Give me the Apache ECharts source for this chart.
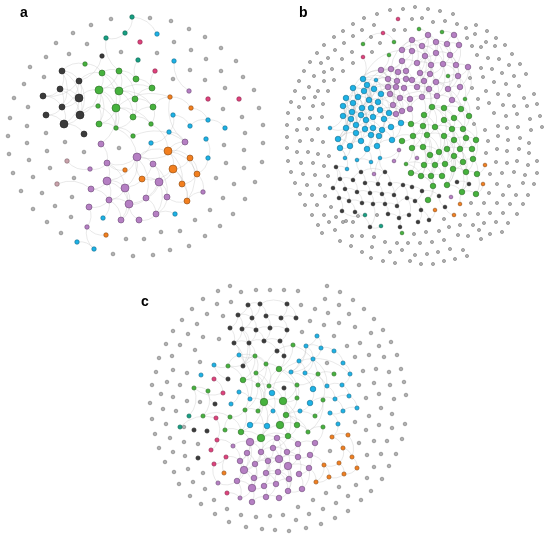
<!DOCTYPE html>
<html><head><meta charset="utf-8">
<script src="https://cdn.jsdelivr.net/npm/echarts@6/dist/echarts.min.js"></script>
<style>html,body{margin:0;padding:0;background:#fff}#c{width:550px;height:538px}</style>
</head><body><div id="c"></div>
<script>
// ---------- Panel a ----------
const aGray=[[91,25],[111,19],[73,33],[56,43],[87,44],[46,57],[69,54],[121,52],[30,67],[44,77],[24,84],[14,98],[28,107],[10,118],[27,126],[46,133],
[150,18],[171,21],[189,29],[205,37],[174,42],[157,53],[191,50],[221,48],[206,59],[236,61],[190,70],[221,71],[243,77],[173,79],[205,80],[225,88],[254,90],[223,109],[259,108],[242,117],[263,125],[245,133],
[8,136],[27,143],[65,142],[9,154],[47,151],[84,152],[29,160],[119,148],[13,173],[50,168],[33,177],[74,178],[21,191],[42,193],[72,197],[33,209],[55,206],[71,217],[47,222],[61,233],[126,239],[113,254],[133,256],
[263,143],[224,145],[244,150],[226,163],[262,162],[244,168],[216,178],[234,184],[255,182],[223,198],[245,199],[210,210],[233,214],[195,220],[220,226],[180,231],[161,232],[144,239],[205,236],[189,246],[170,250],[153,255]];
const aDark=[[102,56,1],[62,71,2],[79,81,2],[60,89,2],[43,96,2],[79,98,3],[62,107,2],[46,115,2],[80,115,3],[64,124,3],[84,134,2]];
const aGreen=[[85,64,1],[102,73,2],[119,71,2],[136,79,2],[99,90,3],[119,91,3],[135,99,2],[98,106,1],[116,108,3],[133,117,2],[99,124,2],[116,128,1],[152,88,2],[153,107,2],[151,124,1],[133,136,1]];
const aTeal=[[132,17,1],[125,33,1],[106,38,1],[138,60,1]];
const aPink=[[140,42,1],[155,71,1],[208,99,1],[239,99,1]];
const aRose=[[67,161,1],[57,184,1]];
const aCyan=[[157,34,1],[174,61,1],[173,115,1],[190,126,1],[208,120,1],[225,128,1],[169,132,1],[151,143,1],[206,139,1],[208,158,1],[175,214,1],[103,218,1],[77,242,1],[94,249,1]];
const aOrange=[[170,97,1],[191,108,1],[168,151,3],[190,158,2],[173,169,3],[197,174,2],[142,179,2],[182,184,2],[187,201,2],[125,170,1],[106,235,1]];
const aPurple=[[189,91,1],[185,142,2],[137,157,3],[153,164,2],[159,182,3],[146,198,2],[167,197,2],[156,214,2],[139,220,2],[203,192,1],[101,144,2],[107,163,2],[90,169,1],[107,181,3],[125,188,3],[91,189,2],[109,200,2],[129,204,3],[89,207,2],[121,220,2],[87,227,1]];
const aEdges="k1:2,3,5,6,g0 k2:4,5,6,8,g1 k0:2 k3:4,5,6,8 k4:6 k5:6,8,9,g4 k6:7,9 k7:9 k8:9,g7 k9:10 g0:1 g1:2,4,5,8 g2:3,4,5,6,t2 g3:12,t3 g4:5,7,8,10,11,k8 g5:6,8,9,12,13 g6:9,12,13 g7:10,11 g8:9,10,11,14,u10,o0 g9:11,13,14 g10:11 g11:15,u2 g12:p1 g13:14,o0 g14:o2 g15:u1 t0:1,c0 t1:2 o0:1 o1:c4 o2:3,4,5,7,u1 o3:4,5,8 o4:6,7,8,u4 o5:7,u9 o6:u2,u4 o7:8 o8:u6,u9 o9:u11 o10:u20 u0:c1 u1:2,o0 u2:3,5,11,13,14,o2 u3:4,6,14 u4:5,6,7,17 u5:7,17 u6:7 u7:8,c10 u8:17 u10:11 u11:12,13,14 u12:r0 u13:14,15,16,17 u14:16,17,19 u15:16 u16:17,18,19,c11 u17:19 u18:20 c2:3,6 c3:4 c4:5 c6:7,u1 c7:u2 c8:9 c9:o5 c12:13 c13:u20 r1:u15";

// ---------- Panel b ----------
const bGray=[[403,9],[390,10],[377,14],[364,18],[353,24],[374,25],[343,31],[362,30],[394,30],[405,30],[334,37],[371,37],[353,36],[380,43],[324,45],[344,43],[335,50],[352,52],[372,52],[317,53],[328,58],[342,59],[310,62],[321,63],[353,63],[304,71],[332,69],[343,71],[314,76],[324,72],[299,81],[334,80],[324,81],[309,87],[295,91],[318,91],[328,91],[291,102],[304,98],[315,97],[323,104],[299,107],[288,113],[313,106],[322,117],[299,119],[310,118],[287,125],[297,130],[307,129],[318,129],
[415,7],[428,9],[440,11],[453,14],[412,19],[422,18],[433,22],[445,21],[457,24],[466,28],[476,25],[475,34],[487,31],[467,38],[486,42],[496,38],[472,46],[481,47],[495,46],[505,45],[477,55],[488,58],[499,59],[512,54],[481,68],[492,69],[509,65],[520,64],[470,78],[483,77],[502,73],[514,76],[526,74],[494,82],[506,84],[519,86],[472,88],[486,91],[498,94],[509,95],[524,98],[534,94],[478,99],[489,103],[503,105],[514,106],[527,106],[537,104],[478,108],[494,113],[506,116],[517,114],[530,119],[540,116],[474,124],[485,130],[498,126],[507,128],[518,127],[531,130],[542,127],
[287,137],[300,141],[312,140],[323,142],[287,148],[297,152],[308,152],[318,154],[329,156],[288,161],[301,163],[313,163],[324,166],[291,172],[303,174],[315,175],[328,176],[295,183],[307,185],[320,185],[300,194],[312,195],[325,196],[305,205],[317,205],[331,207],[312,215],[324,215],[336,217],[318,225],[329,222],[346,221],[322,233],[335,230],[353,222],[340,241],[352,236],[362,236],[351,246],[374,237],[362,252],[372,247],[385,242],[397,243],[371,258],[383,261],[395,263],[390,252],[402,250],[408,243],[410,261],[377,215],[358,216],[343,222],
[498,136],[488,141],[508,140],[520,138],[529,143],[497,149],[486,153],[507,151],[519,149],[529,153],[496,162],[507,163],[517,161],[528,165],[537,161],[490,174],[502,173],[514,172],[525,175],[537,173],[497,184],[509,186],[523,183],[534,184],[489,193],[503,195],[516,195],[528,195],[484,203],[497,203],[510,204],[523,204],[471,203],[478,214],[490,213],[503,213],[517,214],[465,215],[473,225],[484,223],[496,222],[508,223],[460,225],[449,227],[444,219],[426,232],[439,231],[458,235],[479,230],[490,234],[502,232],[414,234],[420,243],[432,242],[444,240],[468,236],[481,239],[415,255],[427,254],[438,252],[450,249],[463,250],[467,256],[421,264],[433,264],[444,261],[455,259]];
const bCyan=[[363,79,2],[376,80,1],[367,85,2],[353,88,2],[364,91,2],[374,89,2],[381,94,2],[346,98,2],[358,97,2],[369,100,2],[378,102,2],[353,103,2],[343,106,2],[362,108,2],[371,108,2],[380,110,2],[389,113,2],[352,112,2],[343,116,2],[361,115,2],[373,117,2],[351,119,2],[366,120,2],[384,119,2],[401,123,2],[356,125,2],[346,128,2],[365,129,2],[373,128,2],[382,130,2],[391,127,2],[330,128,1],[338,139,2],[350,146,2],[361,141,2],[367,149,2],[377,146,2],[340,148,2],[345,158,1],[357,160,1],[371,162,1],[380,158,1],[347,169,1],[356,133,2],[371,135,2],[379,136,2],[392,140,2]];
const bPurple=[[402,50,2],[412,51,2],[402,61,2],[381,70,2],[391,69,2],[398,72,2],[406,71,2],[388,79,2],[397,81,2],[406,79,2],[388,87,2],[396,87,2],[404,88,2],[390,94,2],[400,98,2],[410,99,2],[393,105,2],[402,111,2],[410,109,2],[396,114,2],[428,35,2],[412,40,2],[436,42,2],[447,44,2],[454,35,2],[459,45,2],[422,46,2],[436,53,2],[425,56,2],[450,55,2],[417,63,2],[431,65,2],[443,64,2],[456,65,2],[468,67,2],[420,73,2],[430,74,2],[458,76,2],[424,81,2],[436,82,2],[412,80,2],[417,87,2],[429,89,2],[448,89,2],[460,87,2],[437,96,2],[422,97,2],[452,100,2],[399,150,1],[394,161,1],[374,174,1],[417,158,1],[451,197,1]];
const bGreen=[[363,44,1],[394,42,1],[389,55,1],[419,29,1],[442,32,1],[448,76,1],[465,99,1],[402,233,1],[432,107,2],[444,108,2],[461,109,2],[469,116,2],[454,118,2],[424,115,2],[444,120,2],[411,124,2],[423,126,2],[435,127,2],[452,129,2],[463,129,2],[413,136,2],[427,135,2],[444,136,2],[454,140,2],[466,138,2],[476,140,2],[412,148,2],[423,147,2],[439,152,2],[447,149,2],[460,149,2],[472,149,2],[430,155,2],[454,156,2],[463,162,2],[473,159,2],[424,165,2],[435,165,2],[445,164,2],[453,169,2],[466,172,2],[477,174,2],[411,173,2],[421,176,2],[431,176,2],[442,176,2],[433,186,2],[447,185,2],[462,192,2],[476,194,2],[428,200,2],[402,141,2],[406,164,1]];
const bBlack=[[336,167,1],[340,179,1],[353,180,1],[361,172,1],[365,183,1],[378,184,1],[385,172,1],[390,184,1],[333,188,1],[345,189,1],[357,192,1],[370,193,1],[382,194,1],[394,195,1],[403,185,1],[412,187,1],[339,198,1],[349,201,1],[362,203,1],[373,204,1],[385,204,1],[397,206,1],[407,198,1],[342,211,1],[355,212,1],[388,214,1],[399,218,1],[409,215,1],[370,227,1],[400,227,1],[457,182,1],[469,184,1],[422,191,1],[439,196,1],[415,201,1],[445,207,1],[421,210,1],[429,220,1],[418,222,1]];
const bTeal=[[365,215,1],[381,226,1]];
const bPink=[[398,19,1],[383,33,1],[363,57,1]];
const bOrange=[[485,165,1],[483,184,1],[460,204,1],[435,210,1],[454,215,1]];
const bEdges="c0:1,2,3,4,5,u3,u7 c1:5,6,u7,u8 c2:3,4,5,8,9 c3:4,7,8,11,u3 c4:5,8,9,13 c5:6,9,10,u10 c6:10,15,16,u10,u13 c7:8,11,12,18 c8:9,11,13,17 c9:10,13,14,u4 c10:14,15,16,u14 c11:12,13,17,21 c12:17,18,26 c13:14,17,19,22,u11 c14:15,19,20 c15:16,20,23 c16:23,24,u16,u19 c17:18,19,21,25 c18:21,26,31 c19:20,22,25 c20:22,23,28,u19 c21:25,26 c22:25,27,28 c23:24,29,30 c24:30,46,u17,g15 c25:26,27,43 c26:31,32,43 c27:28,43,44 c28:29,44,45 c29:30,45,46 c30:46 c32:33,37,43 c33:34,37,38 c34:35,43,44 c35:36,39,40 c36:41,45,46 c37:38,42 c39:40 c46:g20 u0:1,2,21,26 u1:2,6,21,28 u2:3,4,5,6,30 u3:4,7,10 u4:5,7,8 u5:6,8,9 u6:9,30,40 u7:8,10,11 u8:9,11,12 u9:12,40,41 u10:11,13 u11:12,13,14 u12:14,15,41 u13:14,16 u14:15,16,17 u15:17,18,46 u16:17,19 u17:18,19 u18:46,g15 u20:21,22,26 u21:26,30 u22:23,26,27 u23:24,25,29 u24:25 u25:29,33 u26:27,28 u27:28,29,31,32 u28:30,31 u29:32,33 u30:31,35 u31:32,35,36 u32:33,36,37 u33:34,37 u34:37,44,g6 u35:36,38,40 u36:38,39 u37:39,43,44,g6 u38:40,41,42 u39:42,43,45 u40:41 u41:42,46 u42:45,46 u43:44,45,47 u44:47 u45:46,47,g8 u46:g13 u47:g9,g10 u48:49,c41 u50:c40 g5:u37,u43 g6:10,11 g8:9,13,14,17 g9:10,12,14 g10:11,12,19 g11:19,25 g12:14,18,19 g13:15,16,17 g14:17,18 g15:16,20 g16:17,20,21 g17:18,21,22 g18:19,22,23 g19:24,25 g20:21,26,27,51 g21:22,27,28 g22:23,28,29 g23:24,29,30 g24:25,30,31 g25:31,35 g26:27,42,52 g27:28,32,36 g28:29,32,37 g29:30,33,38 g30:31,33,34 g31:35 g32:36,37,44 g33:34,38,39 g34:35,39,40 g35:40,41 g36:37,43 g37:38,44,45 g38:39,45 g39:40,47 g40:41,48 g41:49 g42:43,46 g43:44,46 g44:45,46,50 g45:47 g46:50 g47:48 g48:49 k0:1,8,c42 k1:2,9 k2:3,10 k3:4,6,c39 k4:5,11 k5:6,12,c41 k6:7,c41 k7:13,14 k8:16 k9:10,17 k10:11,18 k11:12,19 k12:13,20 k13:14,21 k14:15,22 k15:32 k16:17,23 k17:18,24 k18:19 k19:20,28 k20:21,25 k21:22,26 k22:27,34 k24:28 k25:26 k26:27,29 k30:31 k32:33,34 k34:36 k35:33 k36:37,38 p1:g1 p2:c0 g0:p1 g2:u3 g3:u20 g4:u24 t0:k23 t1:k28 o0:g41 o1:g49 o2:k31 o3:k37 o4:k35 "+
"c0:9,14,19,u0,u13 c2:13,22,u4 c3:12,17,26 c4:14,20,u11 c7:17,25,32 c8:19,27 c9:20,23,u16 c11:19,26,33 c12:21,32,37 c13:20,25,27 c15:24,29,u17 c17:22,43 c19:27,34 c21:32,33 c22:29,35 c25:33,34 c26:37 c28:35,36 c29:36,u19 c43:44,33 c44:45,35 u3:13,40 u4:11,21 u7:13,16 u10:16,19 u13:17 u14:18,45 u20:27,30 u22:29,32 u26:35,31 u28:36,41 u29:37,43 u31:38,42 u32:39,45 u35:41,46 u38:46 u39:47 u42:g13,g16 u43:g10 u47:g11 g8:12,18 g13:20,21 g14:22,23 g16:26,27 g17:28 g18:29,30 g21:32,36 g22:33,37 g23:34,38 g27:43,44 g28:38,45 g29:39,47 g30:40 g33:47,48 g36:46,42 g12:24 g19:30 g52:43,36";

// ---------- Panel c ----------
const cGray=[[230,286],[218,291],[241,292],[256,290],[270,290],[203,299],[217,304],[231,302],[192,309],[207,314],[223,316],[182,320],[197,324],[173,331],[188,334],[203,337],[219,339],[166,344],[180,345],[195,350],[159,358],[172,356],[200,362],[156,372],[173,370],[187,373],[152,385],[167,382],[180,385],[161,394],[173,397],[187,401],[200,402],[150,403],[163,409],[176,411],
[284,290],[298,291],[327,286],[340,292],[301,305],[315,309],[325,299],[339,305],[353,300],[310,321],[328,313],[349,314],[364,309],[302,332],[324,325],[339,323],[355,327],[374,319],[334,336],[347,346],[360,343],[371,333],[383,330],[355,357],[369,355],[379,346],[391,342],[327,363],[363,371],[376,369],[389,372],[401,369],[384,357],[397,355],[359,385],[374,383],[390,385],[404,382],[366,398],[379,394],[394,399],[406,395],[381,408],
[152,419],[166,424],[184,427],[155,434],[170,438],[184,442],[198,444],[159,448],[173,452],[185,456],[165,462],[188,469],[174,472],[203,473],[179,484],[193,482],[205,489],[190,496],[214,500],[201,504],[227,509],[215,514],[241,515],[229,522],[256,517],[270,516],[246,527],[262,529],[275,530],
[369,416],[392,414],[405,424],[355,422],[379,425],[392,428],[366,430],[402,439],[374,441],[387,441],[359,443],[330,451],[396,454],[367,455],[381,454],[374,467],[389,466],[367,478],[382,479],[356,485],[339,487],[371,491],[326,493],[348,496],[361,500],[313,500],[336,503],[298,507],[323,509],[348,511],[283,515],[309,514],[335,518],[296,520],[321,524],[306,528],[289,531]];
const cBlack=[[248,305,1],[260,304,1],[238,315,1],[252,318,1],[266,316,1],[230,328,1],[242,329,1],[256,330,1],[270,328,1],[234,343,1],[249,343,1],[264,341,1],[243,366,1],[228,379,1],[215,404,1],[277,351,1],[287,304,1],[281,318,1],[296,318,1],[287,330,1],[280,341,1],[284,356,1],[284,388,1],[194,430,1],[207,431,1],[198,458,1]];
const cCyan=[[239,355,1],[214,365,1],[201,375,1],[239,392,1],[250,399,1],[231,404,1],[272,393,2],[317,336,1],[306,346,1],[321,348,1],[334,351,1],[299,361,1],[313,359,1],[343,363,1],[291,372,1],[305,373,1],[350,374,1],[313,389,2],[327,386,1],[342,385,1],[310,403,2],[335,399,1],[349,396,1],[300,411,1],[343,411,1],[357,408,1],[250,425,2],[267,426,2],[273,411,1],[330,413,1],[338,424,1]];
const cGreen=[[255,356,1],[266,364,1],[228,366,1],[256,373,1],[243,380,2],[258,385,1],[194,388,1],[208,391,1],[264,402,3],[245,410,1],[258,411,1],[269,386,1],[293,345,1],[279,369,2],[318,374,1],[334,374,1],[297,385,1],[297,398,1],[323,400,1],[283,401,3],[203,416,1],[225,430,1],[230,417,1],[241,432,2],[261,438,3],[286,415,2],[280,425,3],[297,425,2],[288,436,2],[308,432,1],[323,427,1],[315,416,1]];
const cTeal=[[189,416,1],[180,427,1]];
const cPink=[[214,379,1],[223,393,1],[216,418,1],[217,440,1],[211,450,1],[226,457,1],[214,464,1],[227,493,1]];
const cOrange=[[224,473,1],[332,437,1],[348,435,1],[343,448,1],[352,457,1],[339,463,1],[324,465,1],[357,468,1],[344,474,1],[329,477,1],[316,482,1]];
const cPurple=[[233,446,1],[250,442,3],[247,453,2],[261,452,2],[273,448,2],[240,461,2],[255,464,2],[268,461,2],[244,470,3],[266,473,2],[254,478,2],[237,481,2],[218,483,1],[264,486,2],[252,488,3],[276,484,2],[240,498,1],[252,502,2],[266,497,2],[277,438,2],[298,444,2],[315,443,2],[287,452,2],[310,455,2],[279,459,3],[298,457,2],[288,466,3],[309,468,2],[278,472,2],[299,474,2],[289,479,2],[302,489,2],[288,491,2],[279,498,2]];
const cEdges="k0:1,2,3 k1:3,4,16 k2:3,5,6 k3:6,7 k4:8,17 k5:9 k6:7,9,10,12 k7:8,10,11 k8:11,19 k9:10,12,c0 k10:11,12,g0 k11:15,20 k16:17,18 k17:18,19 k19:20 k20:21 k15:21 k12:g0 k13:c1 k21:g13 k22:g19 k14:g7 g0:1,2,3,4,c0 g1:3,5,11,12,13 g2:4,c0,c1 g3:4,5,8,11 g4:5,9 g5:8,9,10,11 g6:7,t0 g7:20 g8:10,11,19,23,24,26 g9:10,22,23 g10:24 g11:13,16,19 g12:13,14 g13:16,17 g14:15,16,18 g16:17,19 g17:19,25 g18:29,31 g19:25,26,27,28 g20:22 g21:22,23 g22:23 g23:24,u1 g24:26,28,u1,u3,u19 g25:26,27,29,31 g26:27,28 g27:28,29 g28:u4,u20 g29:30 g30:u21 c0:4,g1 c3:4,5 c4:g8 c6:11,28 c7:8,9 c8:9,11,12,14 c9:10,12 c10:13 c11:14,15,16 c12:14,15,18 c13:16 c14:17 c15:17,18 c16:19 c17:20 c18:19,21 c19:22 c20:21,23 c21:22,24 c22:25 c24:25,29 c26:27 c27:28 c29:30 c30:o1 u0:1,5 u1:2,3,5,8 u2:5,6,8 u3:4,6,7,8,9,19 u4:7,19,22,24 u5:8,11 u6:7,8,10,14,24 u7:9,13,24 u8:10,11,14 u9:10,13,15,24,28 u10:14 u11:12,14,16 u13:14,15,18 u14:16,17 u15:18,28,30 u17:18 u18:33 u19:20,22,24 u20:21,22,25 u21:23 u22:24,25,26 u23:25,27,o6 u24:25,26,28,30 u25:26,29 u26:27,30,32,9 u27:29,31,o10 u28:30,32 u29:31 u30:32 u31:32 u32:33 o1:2,3 o2:4 o3:4,5 o4:7 o5:6,8 o6:9,10 o7:8 o8:9 o9:10 o0:p5 u12:p6 p0:1 p1:g6 p2:3 p3:4,u0 p5:6,u5 p7:u16 t1:p2";

const panelLabels=['a','b','c'];

// ---------- styling ----------
const STYLE={
  y:{color:'#b0b0b0',border:'#7a7a7a'},
  k:{color:'#3b3b3b',border:'#1e1e1e'},
  g:{color:'#46b23d',border:'#2b6a26'},
  t:{color:'#17a083',border:'#0c5e4d'},
  p:{color:'#e0427c',border:'#85244a'},
  r:{color:'#c9a2ab',border:'#7c6168'},
  c:{color:'#1db2e6',border:'#10698a'},
  o:{color:'#f27f1f',border:'#8c4a12'},
  u:{color:'#b57fc3',border:'#6c4876'}
};

function buildPanel(groups,edgeStr,sizes){
  const nodes=[],offset={};
  groups.forEach(([key,pts])=>{
    offset[key]=nodes.length;
    pts.forEach(p=>{
      const w=key==='y'?0:(p[2]||1);
      nodes.push({value:[p[0],p[1]],symbolSize:sizes[w],
        itemStyle:{color:STYLE[key].color,borderColor:STYLE[key].border,borderWidth:0.6}});
    });
  });
  const links=[];
  edgeStr.trim().split(/\s+/).forEach(tok=>{
    const [src,tg]=tok.split(':');
    const sk=src[0],si=+src.slice(1);
    tg.split(',').forEach(t=>{
      let tk=sk,ti;
      if(/^[a-z]/.test(t)){tk=t[0];ti=+t.slice(1);}else ti=+t;
      links.push({source:offset[sk]+si,target:offset[tk]+ti});
    });
  });
  return {nodes,links};
}

const panels=[
  buildPanel([['y',aGray],['r',aRose],['k',aDark],['g',aGreen],['t',aTeal],['p',aPink],['c',aCyan],['o',aOrange],['u',aPurple]],aEdges,[3.7,4.5,6,8]),
  buildPanel([['y',bGray],['k',bBlack],['t',bTeal],['p',bPink],['o',bOrange],['g',bGreen],['u',bPurple],['c',bCyan]],bEdges,[3.2,3.7,5.6,7]),
  buildPanel([['y',cGray],['k',cBlack],['t',cTeal],['p',cPink],['o',cOrange],['c',cCyan],['g',cGreen],['u',cPurple]],cEdges,[3.6,4.2,5.6,7.5])
];

const chart=echarts.init(document.getElementById('c'),null,{renderer:'canvas'});
chart.setOption({
  animation:false,
  backgroundColor:'#ffffff',
  grid:{left:0,right:0,top:0,bottom:0},
  xAxis:{type:'value',min:0,max:550,show:false},
  yAxis:{type:'value',min:0,max:538,inverse:true,show:false},
  graphic:[
    {type:'text',left:20,top:6,style:{text:panelLabels[0],font:'bold 14px "Liberation Sans", Arial, sans-serif',fill:'#000'}},
    {type:'text',left:299,top:6,style:{text:panelLabels[1],font:'bold 14px "Liberation Sans", Arial, sans-serif',fill:'#000'}},
    {type:'text',left:141,top:295,style:{text:panelLabels[2],font:'bold 14px "Liberation Sans", Arial, sans-serif',fill:'#000'}}
  ],
  series:panels.map(p=>({
    type:'graph',coordinateSystem:'cartesian2d',layout:'none',silent:true,
    data:p.nodes,links:p.links,
    label:{show:false},
    lineStyle:{color:'#b4b4b4',width:0.6,opacity:0.5,curveness:0.3}
  }))
});
</script></body></html>
